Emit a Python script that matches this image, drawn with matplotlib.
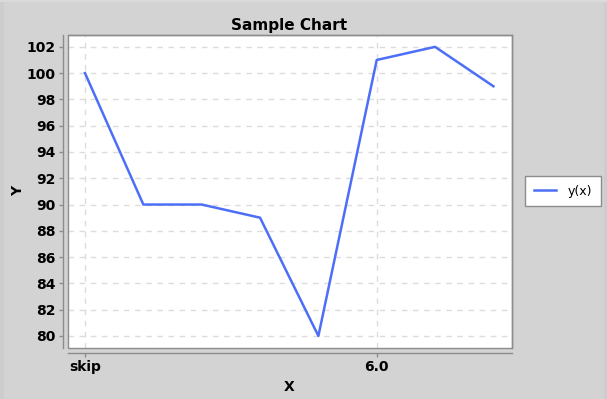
import matplotlib
matplotlib.use('Agg')
import matplotlib.pyplot as plt
from matplotlib.patches import Rectangle

# data
x_vals = [1, 2, 3, 4, 5, 6, 7, 8]
y_vals = [100, 90, 90, 89, 80, 101, 102, 99]
x_ticks = [1, 6]
x_tick_labels = ['skip', '6.0']
y_ticks = [80, 82, 84, 86, 88, 90, 92, 94, 96, 98, 100, 102]

bg = '#d3d3d3'
line_col = '#4d6ef7'
edge = '#8c8c8c'
grid_col = '#dcdcdc'

fig = plt.figure(figsize=(6.07, 3.99), dpi=100, facecolor=bg)

# thin window edges seen in the screenshot
fig.patches.append(Rectangle((0, 0), 4 / 607, 1, transform=fig.transFigure,
                             facecolor='#cdcdcd', edgecolor='none'))
fig.patches.append(Rectangle((604 / 607, 0), 3 / 607, 1, transform=fig.transFigure,
                             facecolor='#cdcdcd', edgecolor='none'))
fig.patches.append(Rectangle((0, 1 - 2 / 399), 1, 2 / 399, transform=fig.transFigure,
                             facecolor='#dadada', edgecolor='none'))

ax = fig.add_axes([67.5 / 607, 1 - 348.3 / 399, 444 / 607, 313.8 / 399])
ax.set_facecolor('white')

ax.plot(x_vals, y_vals, color=line_col, lw=1.8, label='y(x)', zorder=3)

ax.set_xlim(0.70, 8.31)
ax.set_ylim(79.06, 102.94)
ax.set_xticks(x_ticks)
ax.set_xticklabels(x_tick_labels)
ax.set_yticks(y_ticks)

ax.grid(True, color=grid_col, linestyle=(0, (4, 4)), lw=1)

# XChart-style: axis lines sit a few pixels away from the plot box
for s in ['top', 'right']:
    ax.spines[s].set_color(edge)
    ax.spines[s].set_linewidth(1)
for s in ['left', 'bottom']:
    ax.spines[s].set_position(('outward', 3.6))
    ax.spines[s].set_color(edge)
    ax.spines[s].set_linewidth(1)
ax.add_patch(Rectangle((0, 0), 1, 1, transform=ax.transAxes, fill=False,
                       edgecolor=edge, lw=1, clip_on=False, zorder=4))

ax.tick_params(axis='both', length=3, width=1, color=edge, labelsize=10, pad=2)
for lab in ax.get_xticklabels() + ax.get_yticklabels():
    lab.set_fontweight('bold')

ax.set_title('Sample Chart', fontsize=11, fontweight='bold', pad=3)
ax.set_xlabel('X', fontsize=10, fontweight='bold')
ax.set_ylabel('Y', fontsize=10, fontweight='bold')
ax.xaxis.set_label_coords(0.5, -(386.7 - 348.3) / 313.8)
ax.yaxis.set_label_coords(-(67.5 - 18) / 444, 0.5)
ax.xaxis.label.set_va('center')
ax.yaxis.label.set_va('center')

leg = ax.legend(loc='center left', bbox_to_anchor=(525 / 607, 1 - 191 / 399),
                bbox_transform=fig.transFigure, frameon=True, fancybox=False,
                fontsize=9, handlelength=1.8, borderpad=0.7, handletextpad=0.9,
                borderaxespad=0, framealpha=1)
leg.get_frame().set_edgecolor(edge)
leg.get_frame().set_linewidth(1)
leg.get_frame().set_facecolor('white')

fig.savefig('out.png', dpi=100, facecolor=bg)
